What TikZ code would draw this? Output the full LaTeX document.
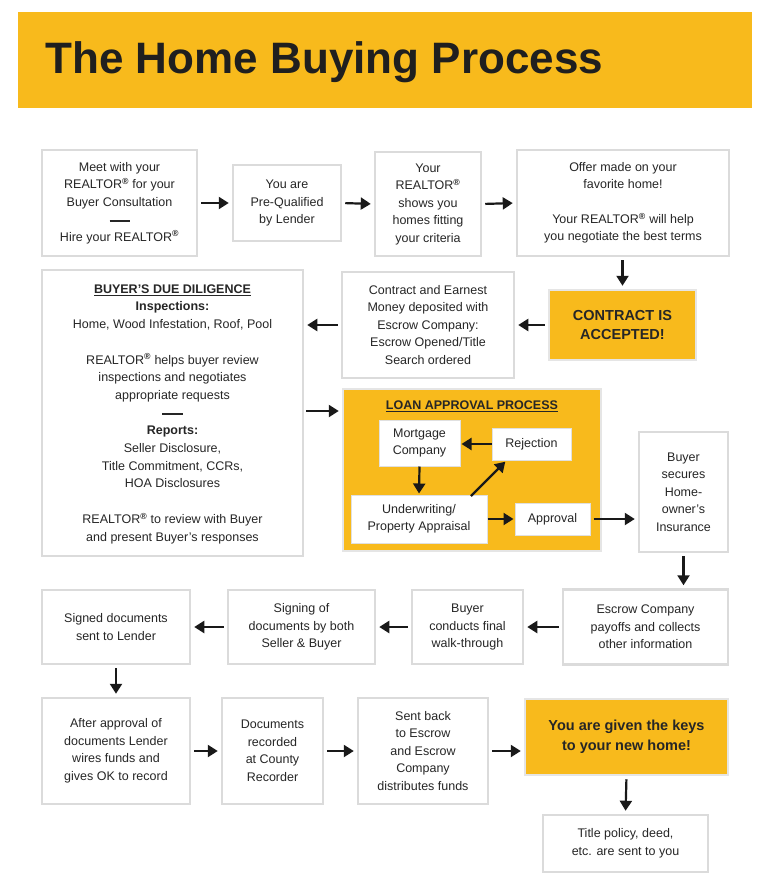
\documentclass[tikz,border=0pt]{standalone}
\usepackage{fontspec}
\setmainfont{Liberation Sans}
\usetikzlibrary{arrows.meta}
\definecolor{gold}{HTML}{F8BA1C}
\tikzset{
 box/.style={draw=black!14, line width=2.5pt, fill=white, align=center, inner sep=2pt, font=\fontsize{12.5}{17.5}\selectfont, text=black!85},
 ybox/.style={box, fill=gold, draw=black!10},
 ibox/.style={draw=black!12, line width=1pt, fill=white, align=center, inner sep=2pt, font=\fontsize{12.5}{17}\selectfont, text=black!85},
 arr/.style={-{Triangle[length=10pt,width=12pt]}, line width=2.2pt, black!90, shorten <=3pt, shorten >=3pt},
 iarr/.style={arr, shorten <=0pt, shorten >=1pt}
}
\newcommand{\sep}{\rule[0.3ex]{20pt}{2pt}}
\newcommand{\R}{\textsuperscript{\bfseries ®}}
\begin{document}
\begin{tikzpicture}[x=1pt,y=-1pt]
\useasboundingbox (0,0) rectangle (770,889);
\fill[white] (0,0) rectangle (770,889);
\node[fill=gold, minimum width=734, minimum height=96, inner sep=0] (title) at (385,60) {};
\node[anchor=west, font=\fontsize{44}{50}\selectfont\bfseries, text=black!88] (tt) at (42,62) {The Home Buying Process};
% row 1
\node[box, minimum width=155, minimum height=106] (a) at (119.5,203) {Meet with your\\REALTOR\R{} for your\\Buyer Consultation\\\sep\\Hire your REALTOR\R};
\node[box, minimum width=108, minimum height=76] (b) at (287,203) {You are\\Pre-Qualified\\by Lender};
\node[box, minimum width=106, minimum height=104] (c) at (428,204) {Your\\REALTOR\R\\shows you\\homes fitting\\your criteria};
\node[box, minimum width=212, minimum height=106] (d) at (623,203) {Offer made on your\\favorite home!\\[17pt]Your REALTOR\R{} will help\\you negotiate the best terms};
% row 2
\node[box, minimum width=261, minimum height=286] (e) at (172.5,413) {};
\node[anchor=north, align=center, font=\fontsize{12.5}{17.7}\selectfont, text=black!85] (et) at (172.5,281) {\textbf{\underline{BUYER'S DUE DILIGENCE}}\\\textbf{Inspections:}\\Home, Wood Infestation, Roof, Pool\\[17.7pt]REALTOR\R{} helps buyer review\\inspections and negotiates\\appropriate requests\\\sep\\\textbf{Reports:}\\Seller Disclosure,\\Title Commitment, CCRs,\\HOA Disclosures\\[17.7pt]REALTOR\R{} to review with Buyer\\and present Buyer's responses};
\node[box, minimum width=172, minimum height=106] (f) at (428,325) {Contract and Earnest\\Money deposited with\\Escrow Company:\\Escrow Opened/Title\\Search ordered};
\node[ybox, minimum width=147, minimum height=70, font=\fontsize{14.5}{19}\selectfont\bfseries] (g) at (622.5,325) {CONTRACT IS\\ACCEPTED!};
\node[ybox, minimum width=258, minimum height=162] (h) at (472,470) {};
\node[font=\fontsize{12.5}{15}\selectfont\bfseries, text=black!85] (ht) at (472,406) {\underline{LOAN APPROVAL PROCESS}};
\node[ibox, minimum width=81, minimum height=46] (h1) at (419.5,443) {Mortgage\\Company};
\node[ibox, minimum width=79, minimum height=32] (h2) at (531.5,444) {Rejection};
\node[ibox, minimum width=136, minimum height=48] (h3) at (419,519) {Underwriting/\\Property Appraisal};
\node[ibox, minimum width=75, minimum height=32] (h4) at (552.5,519) {Approval};
\node[box, minimum width=89, minimum height=120] (i) at (683.5,492) {Buyer\\secures\\Home-\\owner's\\Insurance};
% row 3
\node[box, minimum width=165, minimum height=75] (j) at (645.5,627) {Escrow Company\\payoffs and collects\\other information};
\node[box, minimum width=111, minimum height=74] (k) at (467.5,627) {Buyer\\conducts final\\walk-through};
\node[box, minimum width=147, minimum height=74] (l) at (301.5,627) {Signing of\\documents by both\\Seller \& Buyer};
\node[box, minimum width=148, minimum height=74] (m) at (116,627) {Signed documents\\sent to Lender};
% row 4
\node[box, minimum width=148, minimum height=106] (n) at (116,751) {After approval of\\documents Lender\\wires funds and\\gives OK to record};
\node[box, minimum width=101, minimum height=106] (o) at (272.5,751) {Documents\\recorded\\at County\\Recorder};
\node[box, minimum width=130, minimum height=106] (p) at (423,751) {Sent back\\to Escrow\\and Escrow\\Company\\distributes funds};
\node[ybox, minimum width=203, minimum height=76, font=\fontsize{14.5}{20}\selectfont\bfseries] (q) at (626.5,737) {You are given the keys\\to your new home!};
\node[box, minimum width=165, minimum height=57] (r) at (625.5,843.5) {Title policy, deed,\\etc. are sent to you};
% arrows
\draw[arr] (a.east) -- (b.west);
\draw[arr] (b.east) -- (c.west);
\draw[arr] (c.east) -- (d.west);
\draw[arr] (d.south -| g.north) -- (g.north);
\draw[arr] (g.west) -- (f.east);
\draw[arr] (f.west) -- (e.east |- f.west);
\coordinate (eh) at (303,411);
\draw[arr] (eh) -- (eh -| h.west);
\draw[iarr] (h1.south) -- (h3.north);
\draw[iarr] (h2.west) -- (h1.east |- h2.west);
\coordinate (u1) at (471,496);
\coordinate (u2) at (506,461);
\draw[iarr] (u1) -- (u2);
\draw[iarr] (h3.east) -- (h4.west);
\draw[arr] (h4.east) -- (i.west |- h4.east);
\draw[arr] (i.south) -- (j.north -| i.south);
\draw[arr] (j.west) -- (k.east);
\draw[arr] (k.west) -- (l.east);
\draw[arr] (l.west) -- (m.east);
\draw[arr] (m.south) -- (n.north -| m.south);
\draw[arr] (n.east) -- (o.west);
\draw[arr] (o.east) -- (p.west);
\draw[arr] (p.east) -- (q.west |- p.east);
\draw[arr] (q.south) -- (r.north);
\end{tikzpicture}
\end{document}
